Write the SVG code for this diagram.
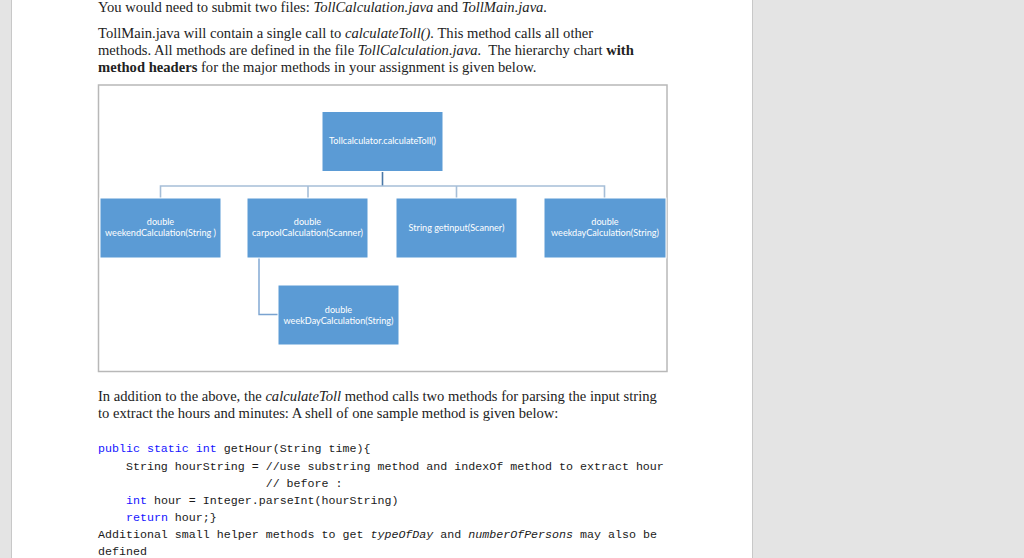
<svg xmlns="http://www.w3.org/2000/svg" width="1024" height="558" viewBox="0 0 1024 558">
<style>
.serif{font-family:"Liberation Serif","Times New Roman",serif;font-size:14.6px;fill:#222;}
.pre{white-space:pre;}
.it{font-style:italic;}
.b{font-weight:bold;}
.code{font-family:"Liberation Mono","DejaVu Sans Mono",monospace;font-size:11.65px;fill:#1a1a1a;white-space:pre;}
.kw{fill:#1515ff;}
.box{fill:#5b9bd5;stroke:#ffffff;stroke-width:1;}
.lbl{font-family:Lato,"Open Sans",sans-serif;font-size:9.1px;fill:#ffffff;text-anchor:middle;}
.conn{fill:none;stroke:#a6bed8;stroke-width:1.6;}
</style>
<rect x="0" y="0" width="1024" height="558" fill="#e4e4e4"/>
<rect x="12" y="0" width="740" height="558" fill="#ffffff"/>
<line x1="11.5" y1="0" x2="11.5" y2="558" stroke="#c8c8c8" stroke-width="1"/>
<line x1="752.5" y1="0" x2="752.5" y2="558" stroke="#c8c8c8" stroke-width="1"/>

<g id="intro">
<text class="serif" x="98" y="12">You would need to submit two files: <tspan class="it">TollCalculation.java</tspan> and <tspan class="it">TollMain.java.</tspan></text>
<text class="serif" x="98" y="38">TollMain.java will contain a single call to <tspan class="it">calculateToll().</tspan> This method calls all other</text>
<text class="serif pre" x="98" y="55">methods. All methods are defined in the file <tspan class="it">TollCalculation.java.</tspan>  The hierarchy chart <tspan class="b">with</tspan></text>
<text class="serif" x="98" y="72"><tspan class="b">method headers</tspan> for the major methods in your assignment is given below.</text>
</g>

<rect id="frame" x="98.5" y="85" width="568.5" height="286.5" fill="#ffffff" stroke="#b8b8b8" stroke-width="1.5"/>

<g id="connectors">
<line x1="382.5" y1="171" x2="382.5" y2="186" stroke="#4a78a8" stroke-width="1.6"/>
<path class="conn" d="M160.5 198 V186 H604.5 V198 M308 186 V198 M456.5 186 V198"/>
<path d="M259 257.5 V314.5 H278" fill="none" stroke="#7aa3d0" stroke-width="1.4"/>
</g>

<g id="node-root">
<rect class="box" x="322" y="111.5" width="121" height="60"/>
<text class="lbl" x="382.5" y="144">Tollcalculator.calculateToll()</text>
</g>
<g id="node-weekend">
<rect class="box" x="100" y="198" width="121" height="60"/>
<text class="lbl" x="160.5" y="225">double</text>
<text class="lbl" x="160.5" y="236">weekendCalculation(String )</text>
</g>
<g id="node-carpool">
<rect class="box" x="247" y="198" width="121" height="60"/>
<text class="lbl" x="307.5" y="225">double</text>
<text class="lbl" x="307.5" y="236">carpoolCalculation(Scanner)</text>
</g>
<g id="node-getinput">
<rect class="box" x="396" y="198" width="121" height="60"/>
<text class="lbl" x="456.5" y="230.5">String getinput(Scanner)</text>
</g>
<g id="node-weekday">
<rect class="box" x="544" y="198" width="122" height="60"/>
<text class="lbl" x="605" y="225">double</text>
<text class="lbl" x="605" y="236">weekdayCalculation(String)</text>
</g>
<g id="node-weekDay2">
<rect class="box" x="278" y="285" width="121" height="60"/>
<text class="lbl" x="338.5" y="312.5">double</text>
<text class="lbl" x="338.5" y="323.5">weekDayCalculation(String)</text>
</g>

<g id="after">
<text class="serif" x="98" y="401">In addition to the above, the <tspan class="it">calculateToll</tspan> method calls two methods for parsing the input string</text>
<text class="serif" x="98" y="418">to extract the hours and minutes: A shell of one sample method is given below:</text>
</g>

<g id="code">
<text class="code" x="98" y="452"><tspan class="kw">public static int</tspan> getHour(String time){</text>
<text class="code" x="98" y="469.5">    String hourString = //use substring method and indexOf method to extract hour</text>
<text class="code" x="98" y="486.5">                        // before :</text>
<text class="code" x="98" y="503.5">    <tspan class="kw">int</tspan> hour = Integer.parseInt(hourString)</text>
<text class="code" x="98" y="520.5">    <tspan class="kw">return</tspan> hour;}</text>
<text class="code" x="98" y="538">Additional small helper methods to get <tspan font-style="italic">typeOfDay</tspan> and <tspan font-style="italic">numberOfPersons</tspan> may also be</text>
<text class="code" x="98" y="555">defined</text>
</g>
</svg>
